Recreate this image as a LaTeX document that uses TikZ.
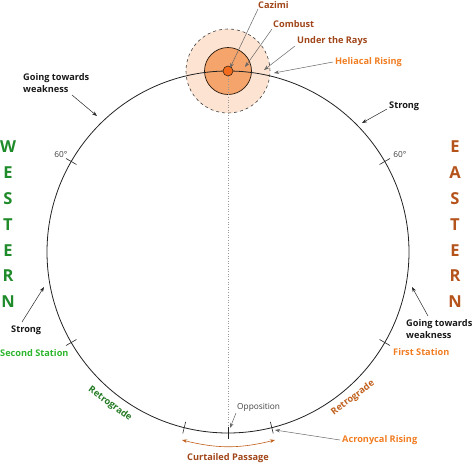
\documentclass[tikz,border=0pt]{standalone}
\usepackage{fontspec}
\setmainfont{Open Sans}
\usetikzlibrary{arrows.meta,calc}
\definecolor{brownT}{HTML}{A0461A}
\definecolor{orangeT}{HTML}{F07D22}
\definecolor{eastC}{HTML}{B5531C}
\definecolor{westC}{HTML}{1F8B2B}
\definecolor{greenT}{HTML}{2DB52D}
\definecolor{retroG}{HTML}{237A23}
\definecolor{retroO}{HTML}{C0601C}
\definecolor{outerF}{HTML}{FDE3D1}
\definecolor{innerF}{HTML}{F5A46C}
\definecolor{sunF}{HTML}{F36C1E}
\definecolor{lineD}{HTML}{222222}
\begin{document}
\begin{tikzpicture}[x=1pt,y=-1pt,
  lbl/.style={font=\bfseries\fontsize{9.2}{12}\selectfont, inner sep=0pt, text=black!90},
  small/.style={font=\fontsize{8.3}{10}\selectfont, inner sep=0pt, text=black!75},
  big/.style={font=\bfseries\fontsize{16.5}{16.5}\selectfont, inner sep=0pt},
  ptr/.style={-{Stealth[length=5pt,width=3.6pt]}, line width=0.5pt, draw=black!85},
  gptr/.style={-{Stealth[length=5pt,width=3.6pt]}, line width=0.5pt, draw=black!60},
  tickmark/.style={line width=0.6pt, draw=lineD}]
\useasboundingbox (0,0) rectangle (474,464);
\coordinate (C) at (228,252);
% sun zones
\node[circle, inner sep=0pt, minimum size=84pt, fill=outerF, draw=black!75, dashed, line width=0.6pt] (rays) at (228,71) {};
\node[circle, inner sep=0pt, minimum size=47pt, fill=innerF, draw=black!80!brown, line width=0.7pt] (combust) at (228,71) {};
% main circle
\draw[line width=0.8pt, draw=lineD] (C) circle[radius=181pt];
\coordinate (opp) at (228,433);
\draw[black!40, dotted, line width=0.6pt] (228,71) -- (opp);
\node[circle, inner sep=0pt, minimum size=10pt, fill=sunF, draw=black!70!brown, line width=0.6pt] (sun) at (228,71) {};
% ticks
\foreach \a in {150,30,210,-30,256,284,270}
  \draw[tickmark] ($(C)+(\a:175pt)$) -- ($(C)+(\a:187pt)$);
% top labels
\node[lbl, text=brownT, anchor=west] (caz) at (258,5) {Cazimi};
\node[lbl, text=brownT, anchor=west] (comb) at (273,24) {Combust};
\node[lbl, text=brownT, anchor=west] (utr) at (297,41) {Under the Rays};
\node[lbl, text=orangeT, anchor=west] (hel) at (335,62) {Heliacal Rising};
\coordinate (cazS) at (258,9);
\coordinate (cazE) at (230,68);
\coordinate (combS) at (272,29);
\coordinate (combE) at (245,67);
\coordinate (utrS) at (295,46);
\coordinate (utrE) at (264,70);
\coordinate (helS) at (333,62);
\coordinate (helE) at (274,73);
\draw[gptr] (cazS) -- (cazE);
\draw[gptr] (combS) -- (combE);
\draw[gptr] (utrS) -- (utrE);
\draw[gptr] (helS) -- (helE);
% side labels
\node[lbl, anchor=west, align=left] (gtwL) at (23,83) {Going towards\\weakness};
\coordinate (gtwLS) at (72,95);
\coordinate (gtwLE) at (97,116);
\draw[ptr] (gtwLS) -- (gtwLE);
\node[lbl, anchor=west] (strR) at (389,106) {Strong};
\coordinate (strRS) at (387,109);
\coordinate (strRE) at (362,123);
\draw[ptr] (strRS) -- (strRE);
\node[lbl, anchor=west] (strL) at (11,330) {Strong};
\coordinate (strLS) at (22,322);
\coordinate (strLE) at (44,287);
\draw[ptr] (strLS) -- (strLE);
\node[lbl, anchor=west, align=left] (gtwR) at (406,329) {Going towards\\weakness};
\coordinate (gtwRS) at (428,316);
\coordinate (gtwRE) at (412,287);
\draw[ptr] (gtwRS) -- (gtwRE);
\node[lbl, text=greenT, anchor=west] (ss) at (0,353) {Second Station};
\node[lbl, text=orangeT, anchor=west] (fs) at (393,352) {First Station};
\node[small] (sixL) at (61,155) {60°};
\node[small] (sixR) at (400,155) {60°};
% WESTERN / EASTERN
\foreach \l [count=\i from 0] in {W,E,S,T,E,R,N}
  \node[big, text=westC] (w\i) at (8,147+25.8*\i) {\l};
\foreach \l [count=\i from 0] in {E,A,S,T,E,R,N}
  \node[big, text=eastC] (e\i) at (455,147+25.8*\i) {\l};
% retrograde
\node[lbl, text=retroG, rotate=-36] (retG) at (110,404) {Retrograde};
\node[lbl, text=retroO, rotate=37] (retO) at (353,398) {Retrograde};
% bottom
\node[small, anchor=west] (oppL) at (237,407) {Opposition};
\coordinate (oppS) at (236,413);
\coordinate (oppE) at (230,428);
\draw[gptr] (oppS) -- (oppE);
\node[lbl, text=orangeT, anchor=west] (acr) at (342,440) {Acronycal Rising};
\coordinate (acrS) at (340,440);
\coordinate (acrE) at (275,430);
\draw[gptr] (acrS) -- (acrE);
\node[lbl, text=brownT] (cur) at (228,458) {Curtailed Passage};
\coordinate (cp1) at (182,440);
\coordinate (cp2) at (275,440);
\draw[{Stealth[length=5pt,width=3.6pt]}-{Stealth[length=5pt,width=3.6pt]}, draw=retroO, line width=0.6pt] (cp1) to[bend right=14] (cp2);
\end{tikzpicture}
\end{document}
